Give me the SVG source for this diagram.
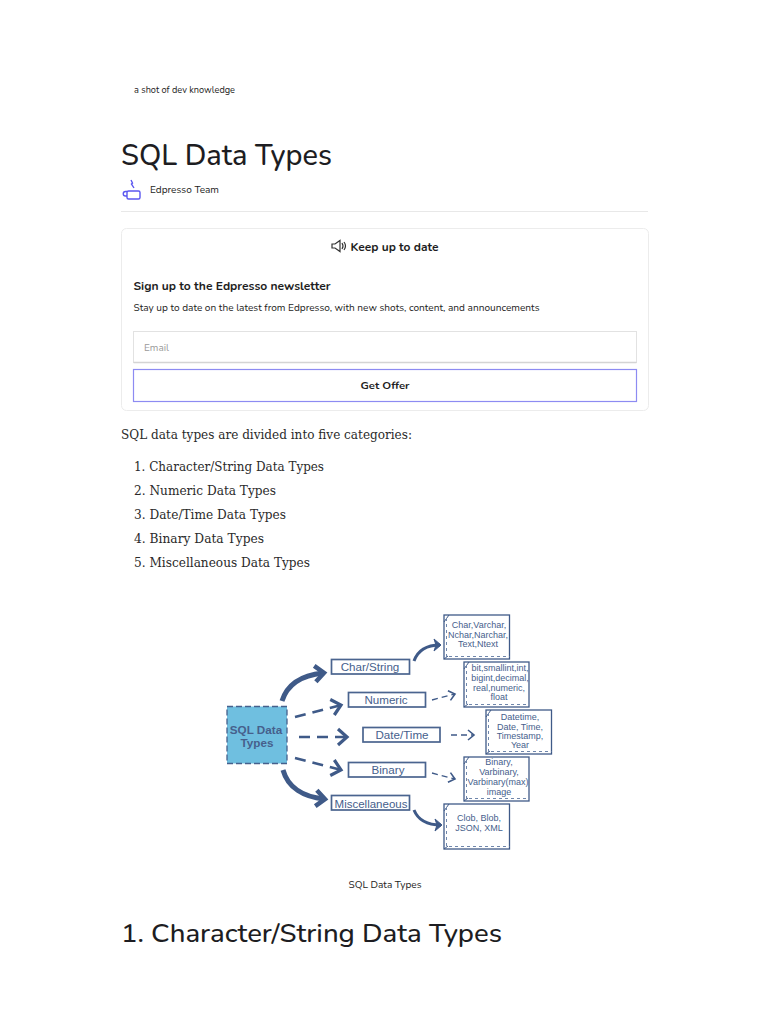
<svg xmlns="http://www.w3.org/2000/svg" width="768" height="1024" viewBox="0 0 768 1024">
<defs>
<marker id="a1" markerUnits="userSpaceOnUse" markerWidth="20" markerHeight="20" refX="10" refY="10" orient="auto" overflow="visible"><path d="M1 2 L10 10 L1 18" fill="none" stroke="#3f5a88" stroke-width="3.2"/></marker>
<marker id="a2" markerUnits="userSpaceOnUse" markerWidth="20" markerHeight="20" refX="7" refY="6" orient="auto" overflow="visible"><path d="M1 1 L7 6 L1 11" fill="none" stroke="#3f5a88" stroke-width="1.600"/></marker>
<marker id="a3" markerUnits="userSpaceOnUse" markerWidth="20" markerHeight="20" refX="10" refY="10" orient="auto" overflow="visible"><path d="M2 2 L11 10 L2 18" fill="none" stroke="#3f5a88" stroke-width="4.500"/></marker>
<marker id="a4" markerUnits="userSpaceOnUse" markerWidth="20" markerHeight="20" refX="6" refY="6" orient="auto" overflow="visible"><path d="M0 0 L7 6 L0 12 L2 6 Z" fill="#3f5a88" stroke="#3f5a88" stroke-width="1"/></marker>
</defs>
<style>
.n{font-family:"Nunito","Lato","Open Sans",sans-serif;fill:#1d1d22}
.b{font-weight:700}
.h{font-weight:500}
.s{font-family:"DejaVu Serif","Liberation Serif",serif;font-size:12.6px;fill:#2a2a2a}
.d{font-family:"Liberation Sans",Arial,sans-serif;fill:#46608c;text-anchor:middle}
.t{font-size:9px}
.l{font-size:11.600px}
.box{fill:#fff;stroke:#4a648f;stroke-width:1.700}
.cube{fill:#fff;stroke:#3f5a88;stroke-width:1.300}
.edge{fill:none;stroke:#3f5a88;stroke-width:1}
.hatch{fill:none;stroke:#6f86ab;stroke-width:1;stroke-dasharray:3 3}
.th{fill:none;stroke:#3f5a88;stroke-width:5}
.da{fill:none;stroke:#3f5a88;stroke-width:2.600;stroke-dasharray:11 7}
.dt{fill:none;stroke:#3f5a88;stroke-width:1.300;stroke-dasharray:6 4}
</style>
<rect width="768" height="1024" fill="#fff"/>
<text x="134" y="92.500" class="n" font-size="9" textLength="101" lengthAdjust="spacingAndGlyphs">a shot of dev knowledge</text>
<text x="121" y="165" class="n h" font-size="29.500" textLength="211" lengthAdjust="spacingAndGlyphs">SQL Data Types</text>
<g id="cup" fill="none" stroke="#5b57f0" stroke-width="1.400">
<path d="M131 180 l1.500 3 -1 1 2.500 4"/>
<rect x="127" y="191" width="13" height="8" rx="1.500"/>
<path d="M127 191.500 h-1.500 a2 2 0 0 0 0 4.500 h1.500"/>
</g>
<text x="150" y="192.500" class="n" font-size="10" textLength="69" lengthAdjust="spacingAndGlyphs">Edpresso Team</text>
<line x1="121" y1="211.500" x2="648" y2="211.500" stroke="#e8e8e8"/>
<g id="newsletter">
<rect x="121.500" y="228.500" width="527" height="182" rx="5" fill="#fff" stroke="#ececec"/>
<g id="speaker" fill="none" stroke="#333" stroke-width="1.200"><path d="M332 244 h3 l5 -3.500 v11 l-5 -3.500 h-3 z M342 243 q2 3 0 6 M344 242 q3 4 0 8"/></g>
<text x="350.500" y="250.500" class="n b" font-size="11" textLength="88" lengthAdjust="spacingAndGlyphs">Keep up to date</text>
<text x="133.500" y="289.500" class="n b" font-size="11" textLength="197" lengthAdjust="spacingAndGlyphs">Sign up to the Edpresso newsletter</text>
<text x="133.500" y="310.500" class="n" font-size="10" textLength="406" lengthAdjust="spacingAndGlyphs">Stay up to date on the latest from Edpresso, with new shots, content, and announcements</text>
<rect x="133.500" y="331.500" width="503" height="31" fill="#fff" stroke="#e2e2e2"/>
<line x1="133.500" y1="362.500" x2="636.500" y2="362.500" stroke="#d4d4d4" stroke-width="1.500"/>
<text x="144" y="350.500" class="n" style="fill:#9a9a9a" font-size="9.500" textLength="25" lengthAdjust="spacingAndGlyphs">Email</text>
<rect x="133.500" y="369.500" width="503" height="32" fill="#fff" stroke="#8d8bf2" stroke-width="1.200"/>
<text x="385" y="388.500" class="n b" font-size="10.500" text-anchor="middle" textLength="49" lengthAdjust="spacingAndGlyphs">Get Offer</text>
</g>
<text x="121" y="438.500" class="s" textLength="291" lengthAdjust="spacingAndGlyphs">SQL data types are divided into five categories:</text>
<text x="134" y="471" class="s" textLength="190" lengthAdjust="spacingAndGlyphs">1. Character/String Data Types</text>
<text x="134" y="495" class="s" textLength="142" lengthAdjust="spacingAndGlyphs">2. Numeric Data Types</text>
<text x="134" y="519" class="s" textLength="152" lengthAdjust="spacingAndGlyphs">3. Date/Time Data Types</text>
<text x="134" y="543" class="s" textLength="130" lengthAdjust="spacingAndGlyphs">4. Binary Data Types</text>
<text x="134" y="567" class="s" textLength="176" lengthAdjust="spacingAndGlyphs">5. Miscellaneous Data Types</text>
<g id="connectors">
<path class="th" d="M282 701 C288 682 304 675 323 673" marker-end="url(#a3)"/>
<path class="da" d="M295 717 L341 705" marker-end="url(#a1)"/>
<path class="da" d="M299 737 L347 737" marker-end="url(#a1)"/>
<path class="da" d="M295 758 L341 770" marker-end="url(#a1)"/>
<path class="th" d="M283 770 C288 788 304 797 324 799" marker-end="url(#a3)"/>
<path d="M414 661 C418 650 427 645 440 645" fill="none" stroke="#3f5a88" stroke-width="3" marker-end="url(#a4)"/>
<path class="dt" d="M432 700 L455 694" marker-end="url(#a2)"/>
<path class="dt" d="M451 735 L474 735" marker-end="url(#a2)"/>
<path class="dt" d="M432 773 L455 779" marker-end="url(#a2)"/>
<path d="M414 810 C418 820 427 825 441 825" fill="none" stroke="#3f5a88" stroke-width="3" marker-end="url(#a4)"/>
</g>
<g id="sql-data-types">
<rect x="227" y="706.500" width="60" height="57" fill="#6fbfe0" stroke="#46608c" stroke-width="1.300" stroke-dasharray="6 3"/>
<text x="256" y="734" class="d" font-size="11.700" font-weight="700">SQL Data</text>
<text x="257" y="747" class="d" font-size="11.700" font-weight="700">Types</text>
</g>
<g id="char-string"><rect class="box" x="331.500" y="659.500" width="78" height="14.500"/><text x="370" y="671" class="d l">Char/String</text></g>
<g id="numeric"><rect class="box" x="348.500" y="692.500" width="77" height="14.500"/><text x="386" y="704" class="d l">Numeric</text></g>
<g id="date-time"><rect class="box" x="363" y="727.500" width="77" height="14.500"/><text x="402" y="739" class="d l">Date/Time</text></g>
<g id="binary"><rect class="box" x="348.500" y="762.500" width="77" height="14.500"/><text x="388" y="774" class="d l">Binary</text></g>
<g id="miscellaneous"><rect class="box" x="331.500" y="795.500" width="78" height="14.500"/><text x="371" y="808" class="d" font-size="11.500">Miscellaneous</text></g>
<g id="t-char">
<rect class="cube" x="444" y="615" width="65.500" height="44"/><path class="edge" d="M444 622 L449 615 M444 659 L448 656"/><path class="hatch" d="M446.500 618 V657 M449 656.500 H509.500"/>
<text x="479" y="628" class="d t">Char,Varchar,</text><text x="478" y="638" class="d t">Nchar,Narchar,</text><text x="478" y="647" class="d t">Text,Ntext</text>
</g>
<g id="t-numeric">
<rect class="cube" x="464" y="662" width="65" height="45"/><path class="edge" d="M464 669 L469 662 M464 707 L468 704"/><path class="hatch" d="M466.500 665 V705 M469 704.500 H529"/>
<text x="500" y="671" class="d t">bit,smallint,int,</text><text x="500" y="681" class="d t">bigint,decimal,</text><text x="499" y="691" class="d t">real,numeric,</text><text x="499" y="700" class="d t">float</text>
</g>
<g id="t-date">
<rect class="cube" x="486" y="710" width="65.500" height="44"/><path class="edge" d="M486 717 L491 710 M486 754 L490 751"/><path class="hatch" d="M488.500 713 V752 M491 751.500 H551.500"/>
<text x="520" y="720" class="d t">Datetime,</text><text x="520" y="730" class="d t">Date, Time,</text><text x="520" y="739" class="d t">Timestamp,</text><text x="520" y="748" class="d t">Year</text>
</g>
<g id="t-binary">
<rect class="cube" x="464" y="757" width="65" height="44"/><path class="edge" d="M464 764 L469 757 M464 801 L468 798"/><path class="hatch" d="M466.500 760 V799 M469 798.500 H529"/>
<text x="499" y="765" class="d t">Binary,</text><text x="499" y="775" class="d t">Varbinary,</text><text x="498" y="785" class="d t">Varbinary(max)</text><text x="499" y="795" class="d t">image</text>
</g>
<g id="t-misc">
<rect class="cube" x="444" y="804" width="65.500" height="45"/><path class="edge" d="M444 811 L449 804 M444 849 L448 846"/><path class="hatch" d="M446.500 807 V847 M449 846.500 H509.500"/>
<text x="479" y="821" class="d t">Clob, Blob,</text><text x="479" y="831" class="d t">JSON, XML</text>
</g>
<text x="385" y="888" class="n" font-size="9.500" text-anchor="middle" textLength="73" lengthAdjust="spacingAndGlyphs">SQL Data Types</text>
<text x="121" y="942" class="n h" font-size="25" textLength="381" lengthAdjust="spacingAndGlyphs">1. Character/String Data Types</text>
</svg>
